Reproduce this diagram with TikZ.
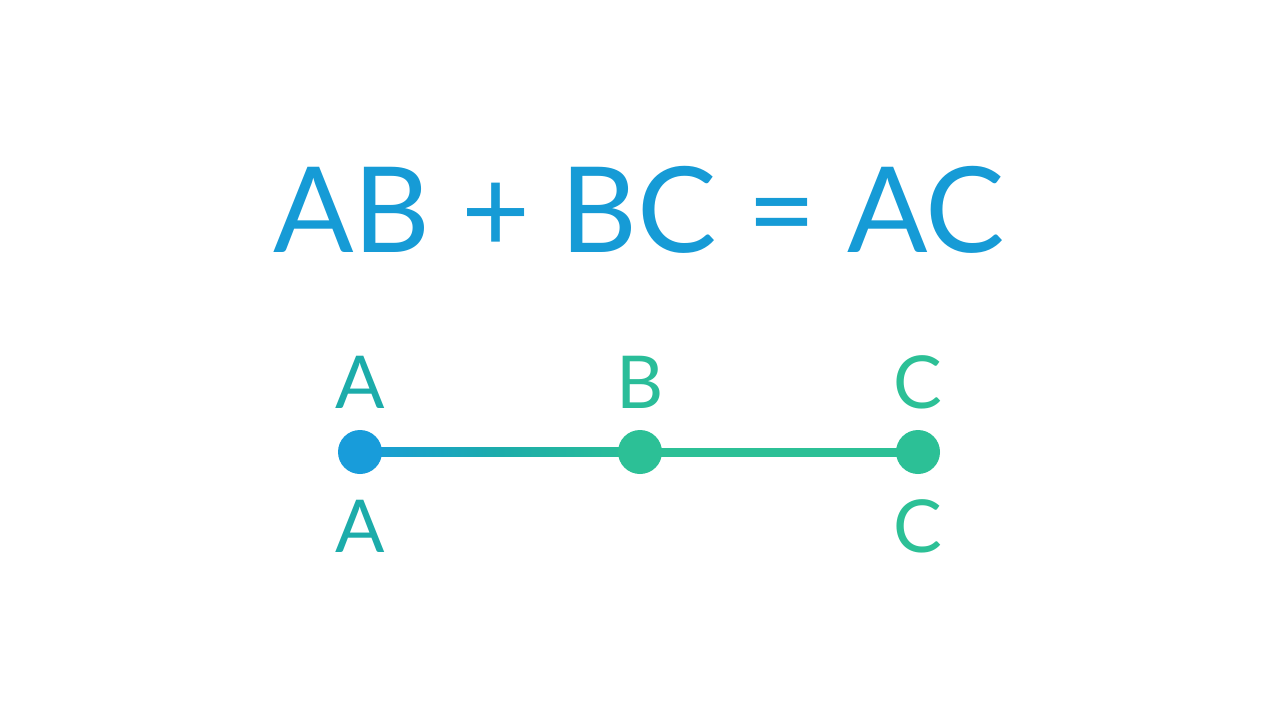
\documentclass[tikz,border=0pt]{standalone}
\usepackage{fontspec}
\setmainfont{Lato}
\usetikzlibrary{calc}
\definecolor{tblue}{RGB}{22,155,214}
\definecolor{dblue}{RGB}{24,156,218}
\definecolor{tteal}{RGB}{28,172,170}
\definecolor{tgreen}{RGB}{44,192,150}
\begin{document}
\begin{tikzpicture}[x=1pt,y=-1pt,
  dot/.style={circle,inner sep=0pt,minimum size=44pt},
  lbl/.style={anchor=base,inner sep=0pt,font=\fontsize{73}{80}\selectfont}]
\useasboundingbox[fill=white] (0,0) rectangle (1280,720);
\node[anchor=base,inner sep=0pt,text=tblue,font=\fontsize{119}{130}\selectfont] (title) at (639,252) {AB + BC = AC};
\coordinate (pA) at (360,452);
\coordinate (pB) at (640,452);
\coordinate (pC) at (918,452);
\shade[left color=dblue,right color=tgreen,middle color=tteal] ($(pA)+(0,-4.5)$) rectangle ($(pB)+(0,4.5)$);
\draw[tgreen,line width=9pt] (pB) -- (pC);
\node[dot,fill=dblue] (A) at (pA) {};
\node[dot,fill=tgreen] (B) at (pB) {};
\node[dot,fill=tgreen] (C) at (pC) {};
\node[lbl,text=tteal] (la) at (360,408) {A};
\node[lbl,text=tgreen!85!tteal] (lb) at (640,408) {B};
\node[lbl,text=tgreen] (lc) at (918,408) {C};
\node[lbl,text=tteal] (la2) at (360,552) {A};
\node[lbl,text=tgreen] (lc2) at (918,552) {C};
\end{tikzpicture}
\end{document}
